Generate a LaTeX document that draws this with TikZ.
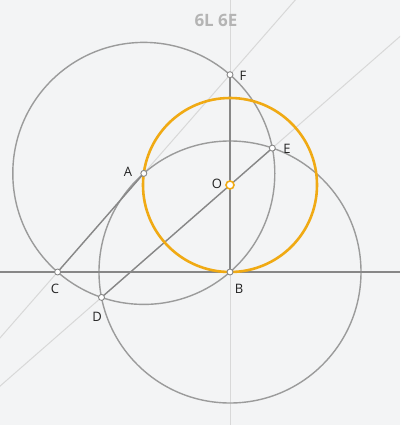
\documentclass[tikz,border=0pt]{standalone}
\usepackage{fontspec}
\setmainfont{Open Sans}
\usetikzlibrary{calc}
\definecolor{bg}{RGB}{243,244,245}
\definecolor{darkl}{RGB}{135,135,135}
\definecolor{litel}{RGB}{216,216,216}
\definecolor{circl}{RGB}{155,155,155}
\definecolor{orng}{RGB}{240,170,20}
\definecolor{ttl}{RGB}{180,180,180}
\definecolor{lbl}{RGB}{35,35,35}
\begin{document}
\begin{tikzpicture}[x=1pt,y=-1pt,
  dot/.style={circle,draw=darkl,fill=white,line width=0.9pt,inner sep=0pt,minimum size=6pt},
  odot/.style={circle,draw=orng,fill=white,line width=1.6pt,inner sep=0pt,minimum size=8pt},
  lightline/.style={draw=litel,line width=1pt},
  darkline/.style={draw=darkl,line width=1.4pt},
  grcirc/.style={draw=circl,line width=1.4pt},
  orcirc/.style={draw=orng,line width=2.6pt},
  lab/.style={text=lbl,font=\fontsize{13}{15}\selectfont,inner sep=0pt}]
\fill[bg] (0,0) rectangle (400,425);
\useasboundingbox (0,0) rectangle (400,425);
\clip (0,0) rectangle (400,425);
\coordinate (B) at (230,272);
\coordinate (A) at (143.8,173.4);
\coordinate (O) at (230,185);
\coordinate (C) at (57.6,272);
\coordinate (F) at (230,74.7);
\coordinate (E) at (272.3,148.1);
\coordinate (D) at (101.5,297.4);
\coordinate (Vt) at (230,0);
\coordinate (Vb) at (230,425);
\coordinate (Hl) at (0,272);
\coordinate (Hr) at (400,272);
% light extension lines
\draw[lightline] ($(C)!-3!(F)$) -- ($(F)!-3!(C)$);
\draw[lightline] ($(D)!-3!(E)$) -- ($(E)!-3!(D)$);
\draw[lightline] (Vt) -- (Vb);
% gray circles
\draw[grcirc] (A) circle (131pt);
\draw[grcirc] (B) circle (131pt);
% dark segments
\draw[darkline] (Hl) -- (Hr);
\draw[darkline] (C) -- (A);
\draw[darkline] (D) -- (E);
\draw[darkline] (F) -- (B);
% orange circle
\draw[orcirc] (O) circle (87pt);
% points
\node[dot] (nA) at (A) {};
\node[dot] (nB) at (B) {};
\node[dot] (nC) at (C) {};
\node[dot] (nD) at (D) {};
\node[dot] (nE) at (E) {};
\node[dot] (nF) at (F) {};
\node[odot] (nO) at (O) {};
% labels
\node[lab] (lF) at (243,76) {F};
\node[lab] (lA) at (128,172) {A};
\node[lab] (lO) at (217,184) {O};
\node[lab] (lE) at (287,149) {E};
\node[lab] (lC) at (55,289) {C};
\node[lab] (lD) at (97,317) {D};
\node[lab] (lB) at (239,289) {B};
\node[text=ttl,font=\bfseries\fontsize{17}{19}\selectfont] (title) at (216,20) {6L 6E};
\end{tikzpicture}
\end{document}
